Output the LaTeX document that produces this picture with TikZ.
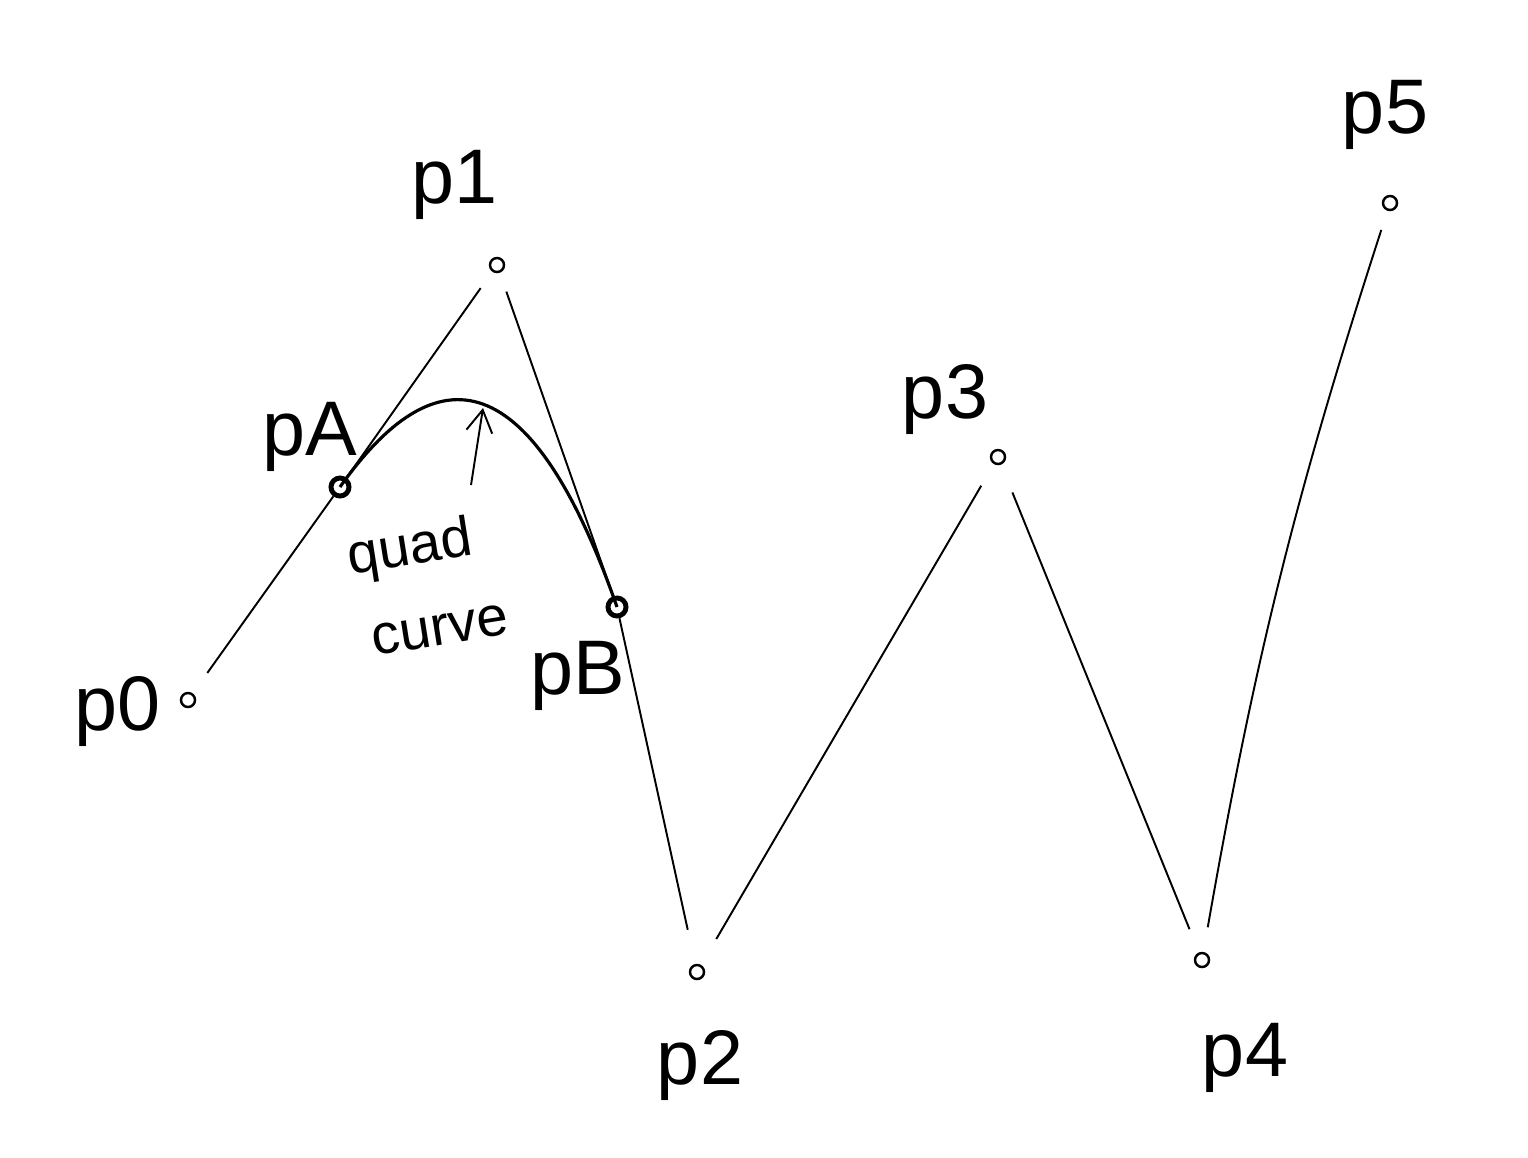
\documentclass[tikz,border=0pt]{standalone}
\usepackage{fontspec}
\setmainfont{Liberation Sans}
\usetikzlibrary{calc,arrows.meta}
\begin{document}
\begin{tikzpicture}[x=0.01cm,y=-0.01cm,
  pt/.style={circle,draw,line width=0.7pt,inner sep=0pt,minimum size=0.14cm},
  bigpt/.style={circle,draw,line width=1.4pt,inner sep=0pt,minimum size=0.18cm},
  lbl/.style={font=\fontsize{22}{26}\selectfont},
  qlbl/.style={font=\fontsize{16}{18}\selectfont,rotate=9,inner sep=0pt},
  seg/.style={line width=0.55pt},
  curvestyle/.style={line width=0.9pt}]
\useasboundingbox[fill=white] (0,0) rectangle (1528,1157);
% points
\node[pt] (p0) at (188,700) {};
\node[pt] (p1) at (497,265) {};
\node[pt] (p2) at (697,972) {};
\node[pt] (p3) at (998,457) {};
\node[pt] (p4) at (1202,960) {};
\node[pt] (p5) at (1390,203) {};
\node[bigpt] (pA) at (340,487) {};
\node[bigpt] (pB) at (617,607) {};
% labels
\node[lbl] (l0) at (118,712) {p0};
\node[lbl] (l1) at (455,185) {p1};
\node[lbl] (lA) at (310,437) {pA};
\node[lbl] (lB) at (578,676) {pB};
\node[lbl] (l2) at (700,1065) {p2};
\node[lbl] (l3) at (945,400) {p3};
\node[lbl] (l4) at (1245,1058) {p4};
\node[lbl] (l5) at (1385,115) {p5};
% segments
\draw[seg,shorten <=0.25cm] (p0) -- (pA);
\draw[seg,shorten >=0.2cm] (pA) -- (p1);
\draw[seg,shorten <=0.2cm] (p1) -- (pB);
\draw[seg,shorten >=0.35cm] (pB) -- (p2);
\draw[seg,shorten <=0.3cm,shorten >=0.25cm] (p2) -- (p3);
\draw[seg,shorten <=0.3cm,shorten >=0.25cm] (p3) -- (p4);
\draw[seg,shorten <=0.25cm,shorten >=0.2cm] (p4) to[bend left=4] (p5);
% quad curve
\draw[curvestyle] (pA.center) .. controls ($(pA.center)!2/3!(p1.center)$) and ($(pB.center)!2/3!(p1.center)$) .. (pB.center);
% label + arrow
\node[qlbl] (qa) at (410,550) {quad};
\node[qlbl] (qb) at (440,630) {curve};
\coordinate (at) at (471,485);
\coordinate (ah) at (483,408);
\draw[line width=0.55pt,-{Straight Barb[length=0.22cm,width=0.26cm]}] (at) -- (ah);
\end{tikzpicture}
\end{document}
